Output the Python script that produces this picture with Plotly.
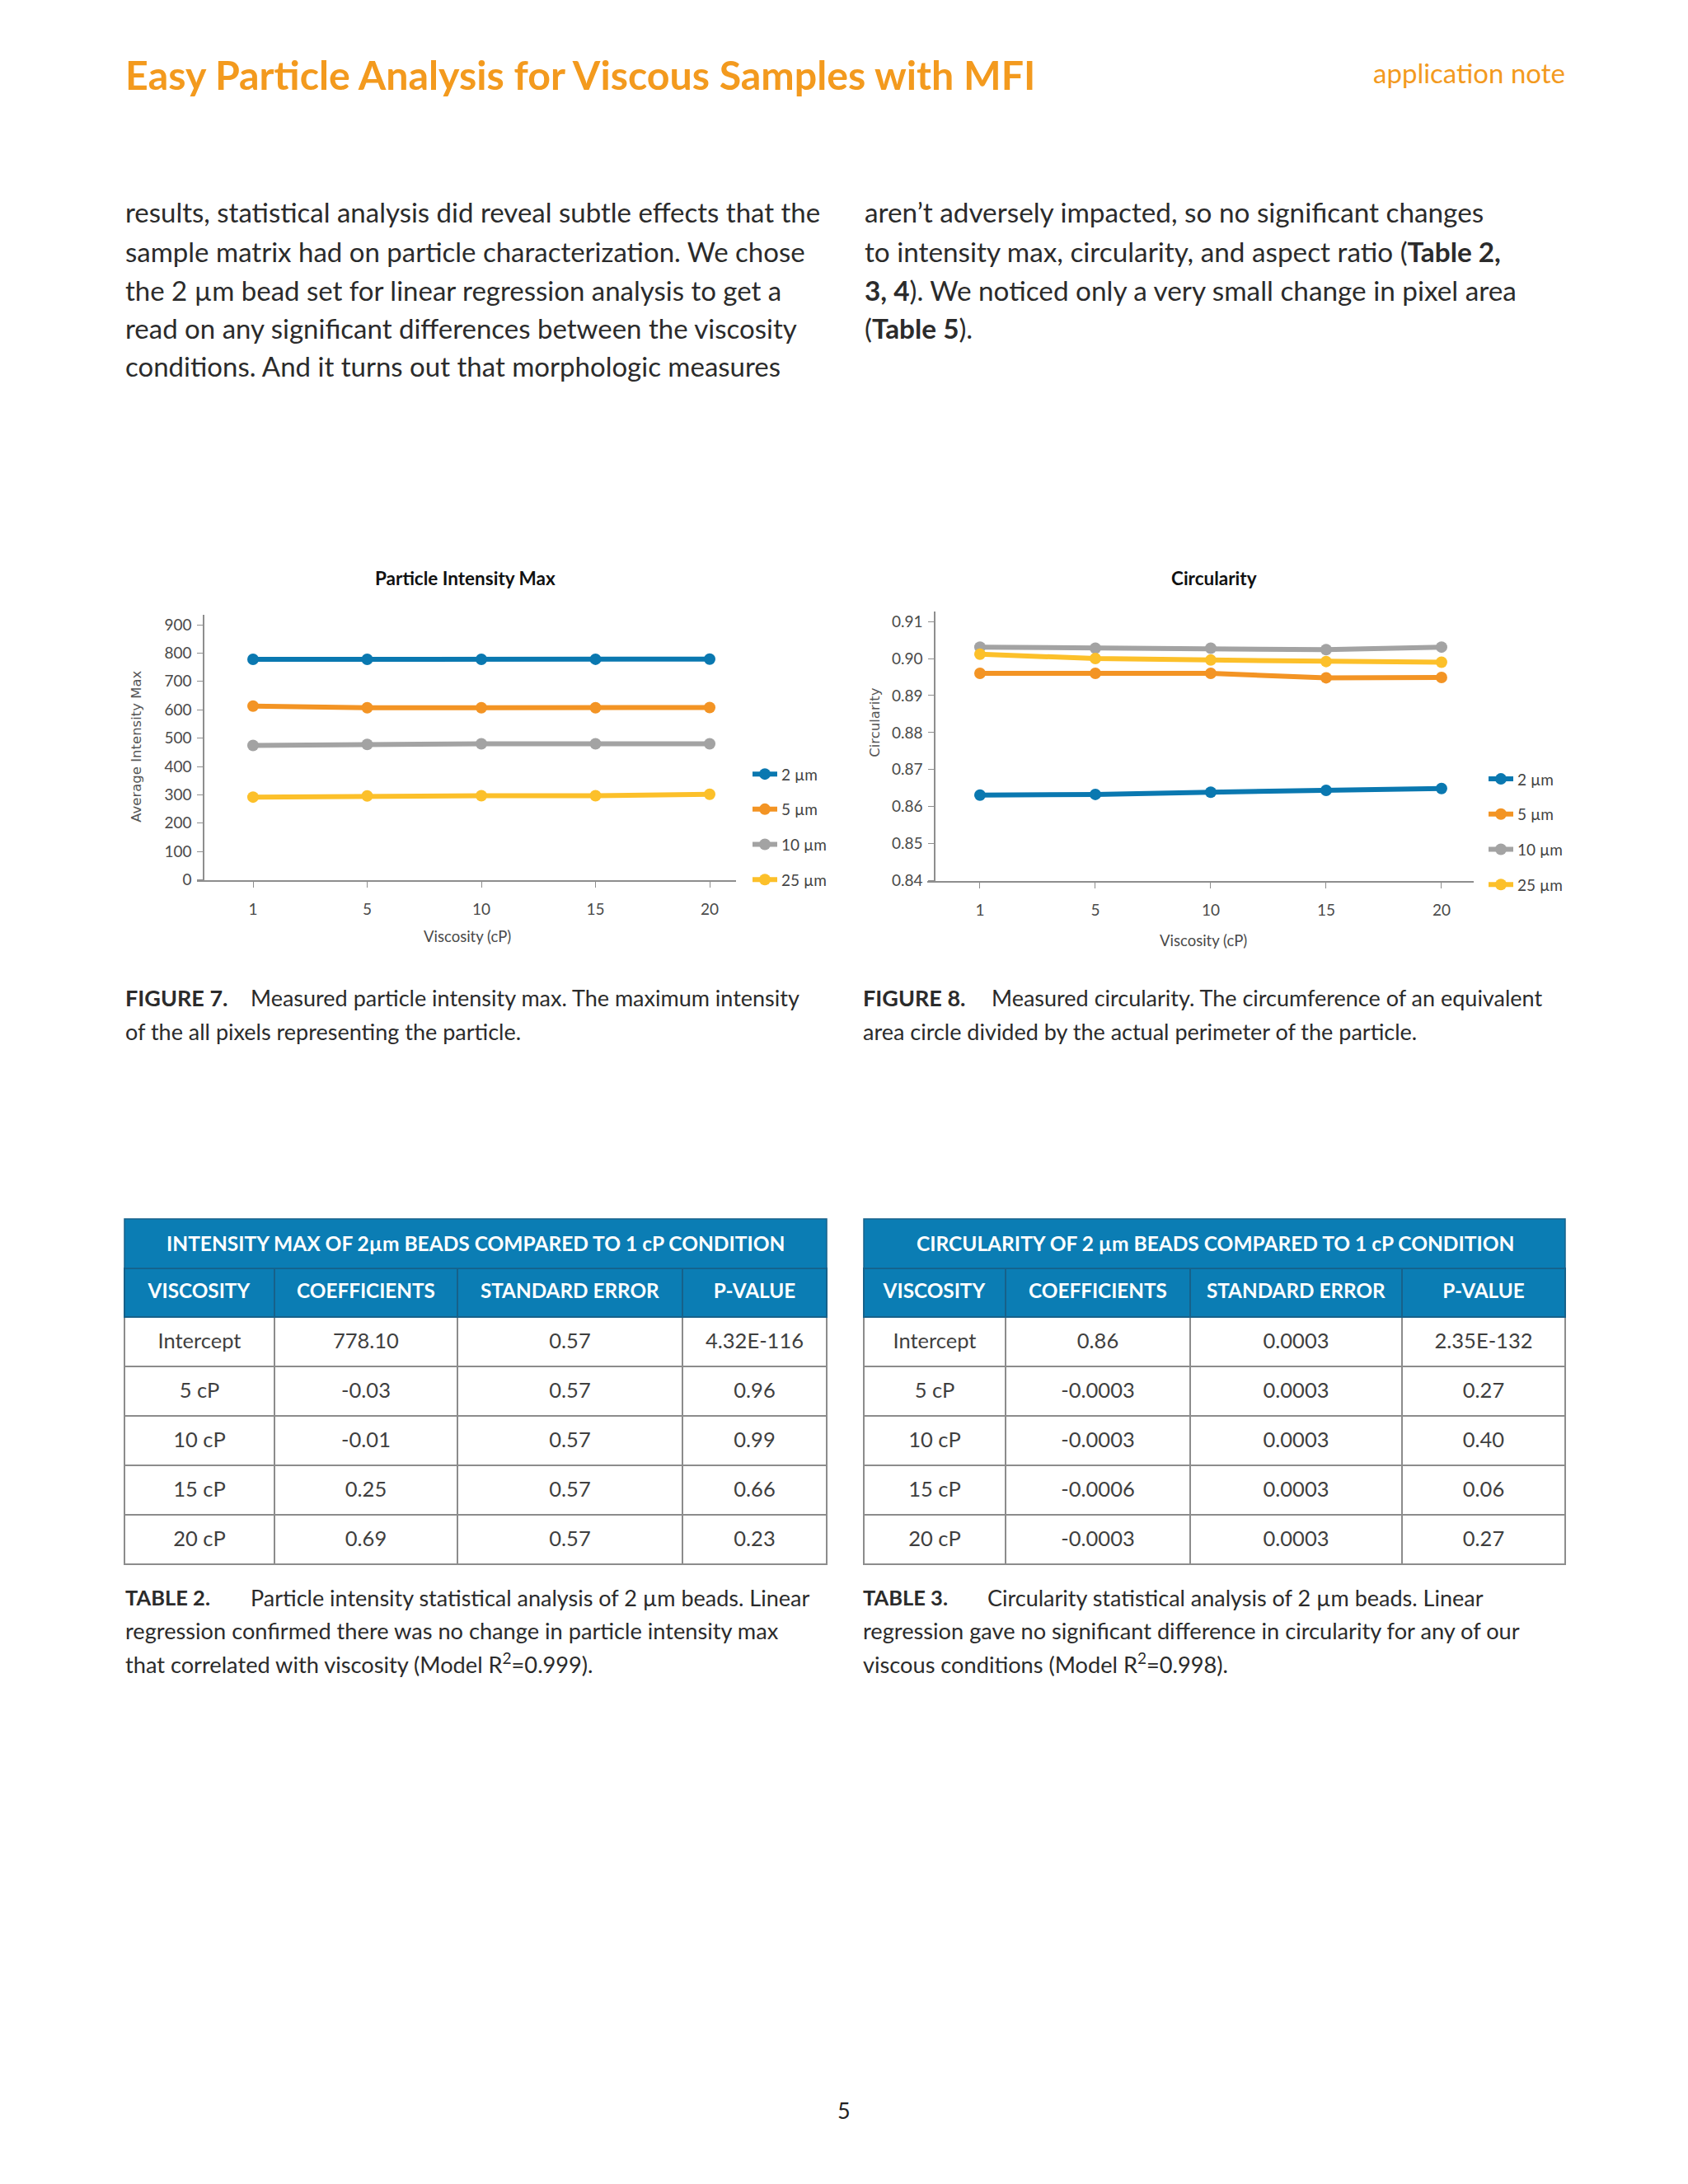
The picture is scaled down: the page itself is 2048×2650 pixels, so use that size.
import plotly.graph_objects as go

W, H = 2048, 2650
OFF = 8  # page body margin compensation

# ---------------- data ----------------
viscosity = ["1", "5", "10", "15", "20"]
series_names = ["2 µm", "5 µm", "10 µm", "25 µm"]
series_colors = ["#0A78B0", "#F39424", "#A3A3A3", "#FCC02A"]

intensity_2 = [778.10, 778.07, 778.09, 778.35, 778.79]
intensity_5 = [613, 607, 607, 607, 608]
intensity_10 = [474, 478, 480, 480, 480]
intensity_25 = [292, 296, 297, 297, 302]

circ_2 = [0.8631, 0.8633, 0.8639, 0.8644, 0.8649]
circ_5 = [0.8960, 0.8960, 0.8960, 0.8948, 0.8949]
circ_10 = [0.9031, 0.9028, 0.9028, 0.9024, 0.9031]
circ_25 = [0.9012, 0.9000, 0.8996, 0.8992, 0.8990]

table_cols = ["VISCOSITY", "COEFFICIENTS", "STANDARD ERROR", "P-VALUE"]
table_rows = ["Intercept", "5 cP", "10 cP", "15 cP", "20 cP"]
t2_coef = ["778.10", "-0.03", "-0.01", "0.25", "0.69"]
t2_se = ["0.57", "0.57", "0.57", "0.57", "0.57"]
t2_p = ["4.32E-116", "0.96", "0.99", "0.66", "0.23"]
t3_coef = ["0.86", "-0.0003", "-0.0003", "-0.0006", "-0.0003"]
t3_se = ["0.0003", "0.0003", "0.0003", "0.0003", "0.0003"]
t3_p = ["2.35E-132", "0.27", "0.40", "0.06", "0.27"]

# ---------------- helpers ----------------
def fx(px):
    return (px - OFF) / W

def fy(py):
    py = py + 0.0028 * py
    return 1 - (py - OFF) / H

FONT = "Lato"
ORANGE = "#F39A1E"
BLUE = "#0B7DB4"
TXT = "#2b2b2b"

fig = go.Figure()

# ---------------- charts ----------------
left_series = [intensity_2, intensity_5, intensity_10, intensity_25]
right_series = [circ_2, circ_5, circ_10, circ_25]

for i, (name, col) in enumerate(zip(series_names, series_colors)):
    fig.add_trace(go.Scatter(
        x=viscosity, y=left_series[i], name=name, mode="lines+markers",
        line=dict(color=col, width=6), marker=dict(color=col, size=14),
        xaxis="x", yaxis="y", legend="legend", legendgroup="L" + str(i),
        hoverinfo="x+y+name"))
for i, (name, col) in enumerate(zip(series_names, series_colors)):
    fig.add_trace(go.Scatter(
        x=viscosity, y=right_series[i], name=name, mode="lines+markers",
        line=dict(color=col, width=6), marker=dict(color=col, size=14),
        xaxis="x2", yaxis="y2", legend="legend2", legendgroup="R" + str(i),
        hoverinfo="x+y+name"))

axis_common = dict(showline=True, linecolor="#8e8e8e", linewidth=1.5,
                   ticks="outside", tickcolor="#8e8e8e", tickwidth=1.2,
                   showgrid=False, zeroline=False,
                   tickfont=dict(family=FONT, size=19, color="#4a4a4a"))

fig.update_layout(
    xaxis=dict(axis_common, domain=[fx(239), fx(893)], anchor="y", type="category",
               categoryorder="array", categoryarray=viscosity,
               range=[-0.491, 4.231], ticklen=8, ticklabelstandoff=10),
    yaxis=dict(axis_common, domain=[fy(1069), fy(747)], anchor="free", position=fx(247),
               range=[0, 935], tickvals=[0, 100, 200, 300, 400, 500, 600, 700, 800, 900],
               ticklen=7, ticklabelstandoff=3),
    xaxis2=dict(axis_common, domain=[fx(1125), fx(1788)], anchor="y2", type="category",
                categoryorder="array", categoryarray=viscosity,
                range=[-0.457, 4.279], ticklen=8, ticklabelstandoff=10),
    yaxis2=dict(axis_common, domain=[fy(1070), fy(743)], anchor="free", position=fx(1134),
                range=[0.84, 0.9127], tickvals=[0.84, 0.85, 0.86, 0.87, 0.88, 0.89, 0.90, 0.91],
                tickformat=".2f", ticklen=7, ticklabelstandoff=3),
)

legend_common = dict(xanchor="left", yanchor="top", tracegroupgap=15, traceorder="grouped",
                     bgcolor="rgba(0,0,0,0)", font=dict(family=FONT, size=19, color="#444"))
fig.update_layout(
    legend=dict(legend_common, x=fx(908), y=fy(921.5)),
    legend2=dict(legend_common, x=fx(1801), y=fy(927.5)),
)

# ---------------- tables ----------------
# a small non-breaking-space first line pushes the real text down so it sits
# in the vertical middle of each row
BASE = 13.2
CELL = 25.5
HBASE = 12.5
HEAD = 24.3

def cellfmt(s):
    return "\u00a0<br><span style='font-size:%spx'>%s</span>" % (CELL, s)

def headfmt(s):
    return "\u00a0<br><span style='font-size:%spx'><b>%s</b></span>" % (HEAD, s)

TOP = 1541  # top of header row

def add_table(x0, x1, widths, cols):
    fig.add_trace(go.Table(
        domain=dict(x=[fx(x0), fx(x1)], y=[fy(TOP + 59 + 300 + 4), fy(TOP)]),
        columnwidth=widths,
        header=dict(values=[headfmt(c) for c in table_cols],
                    fill_color=BLUE, line=dict(color="#17618a", width=1.5),
                    font=dict(family=FONT, size=HBASE, color="white"),
                    align="center", height=59),
        cells=dict(values=[[cellfmt(v) for v in c] for c in cols], fill_color="white",
                   line=dict(color="#8c8c8c", width=1.5),
                   font=dict(family=FONT, size=BASE, color="#3f3f3f"),
                   align="center", height=60)))

add_table(151, 1003, [182, 222, 273, 175], [table_rows, t2_coef, t2_se, t2_p])
add_table(1048, 1899, [172, 224, 257, 198], [table_rows, t3_coef, t3_se, t3_p])

shapes = []
for (x0, x1) in [(151, 1003), (1048, 1899)]:
    shapes.append(dict(type="rect", xref="paper", yref="paper",
                       x0=fx(x0), x1=fx(x1), y0=fy(TOP), y1=fy(TOP - 60),
                       fillcolor=BLUE, line=dict(color="#17618a", width=1.5), layer="above"))

# ---------------- texts ----------------
ann = []

def text(px, py, s, size, color=TXT, anchor="left", family=FONT, angle=0):
    ann.append(dict(x=fx(px), y=fy(py), xref="paper", yref="paper", text=s,
                    showarrow=False, xanchor=anchor, yanchor="middle", textangle=angle,
                    font=dict(family=family, size=size, color=color)))

# header
text(150, 90, "<b>Easy Particle Analysis for Viscous Samples with MFI</b>", 48.3, ORANGE)
text(1901, 88, "application note", 33, ORANGE, anchor="right")

# paragraphs
left_para = [
    "results, statistical analysis did reveal subtle effects that the",
    "sample matrix had on particle characterization. We chose",
    "the 2 µm bead set for linear regression analysis to get a",
    "read on any significant differences between the viscosity",
    "conditions. And it turns out that morphologic measures",
]
right_para = [
    "aren’t adversely impacted, so no significant changes",
    "to intensity max, circularity, and aspect ratio (<b>Table 2,</b>",
    "<b>3, 4</b>). We noticed only a very small change in pixel area",
    "(<b>Table 5</b>).",
]
para_y = [257, 305, 352, 399, 445]
for s, yy in zip(left_para, para_y):
    text(150, yy, s, 33)
for s, yy in zip(right_para, para_y):
    text(1047, yy, s, 33.3)

# chart titles and axis titles
text(564, 702, "<b>Particle Intensity Max</b>", 22.5, "#111", anchor="center")
text(1473, 702, "<b>Circularity</b>", 22.5, "#111", anchor="center")
text(567, 1138, "Viscosity (cP)", 18.5, "#4a4a4a", anchor="center")
text(1460, 1143, "Viscosity (cP)", 18.5, "#4a4a4a", anchor="center")
text(166, 907, "Average Intensity Max", 16.5, "#555", anchor="center", family="DejaVu Sans", angle=-90)
text(1062, 878, "Circularity", 16.5, "#555", anchor="center", family="DejaVu Sans", angle=-90)

# figure captions
text(150, 1212, "<b>FIGURE 7.</b>", 27)
text(302, 1212, "Measured particle intensity max. The maximum intensity", 27)
text(150, 1253, "of the all pixels representing the particle.", 27)
text(1045, 1212, "<b>FIGURE 8.</b>", 27)
text(1201, 1212, "Measured circularity. The circumference of an equivalent", 27)
text(1045, 1253, "area circle divided by the actual perimeter of the particle.", 27)

# table titles
text(577, TOP - 30, "<b>INTENSITY MAX OF 2µm BEADS COMPARED TO 1 cP CONDITION</b>", 24.5, "white", anchor="center")
text(1474, TOP - 30, "<b>CIRCULARITY OF 2 µm BEADS COMPARED TO 1 cP CONDITION</b>", 24.5, "white", anchor="center")

# table captions
text(150, 1941, "<b>TABLE 2.</b>", 25.5)
text(302, 1941, "Particle intensity statistical analysis of 2 µm beads. Linear", 27)
text(150, 1981, "regression confirmed there was no change in particle intensity max", 27.2)
text(150, 2021, "that correlated with viscosity (Model R<sup>2</sup>=0.999).", 27.2)
text(1045, 1941, "<b>TABLE 3.</b>", 25.5)
text(1196, 1941, "Circularity statistical analysis of 2 µm beads. Linear", 27)
text(1045, 1981, "regression gave no significant difference in circularity for any of our", 27.2)
text(1045, 2021, "viscous conditions (Model R<sup>2</sup>=0.998).", 27.2)

# page number
text(1024, 2564, "5", 27, "#222", anchor="center")

fig.update_layout(
    width=W, height=H, margin=dict(l=0, r=0, t=0, b=0),
    paper_bgcolor="white", plot_bgcolor="white",
    font=dict(family=FONT, color=TXT),
    annotations=ann, shapes=shapes, showlegend=True,
)

fig.write_html("out.html")
